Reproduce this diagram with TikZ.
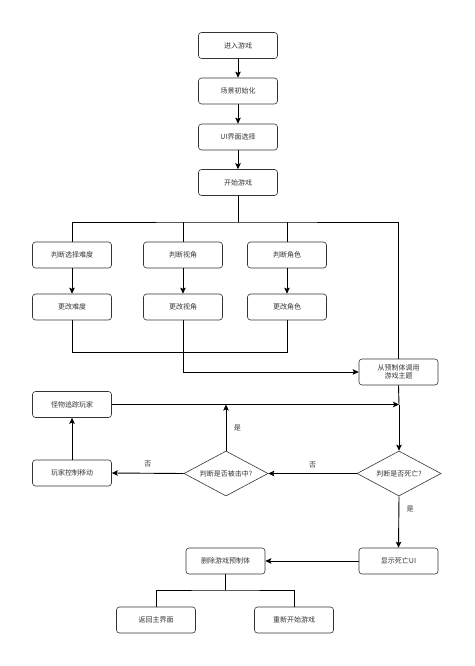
\documentclass[tikz,border=0pt]{standalone}
\usepackage{fontspec}
\newfontfamily\cjk{Noto Sans CJK SC}
\usetikzlibrary{arrows.meta,shapes.geometric}
\begin{document}
\begin{tikzpicture}[x=1pt,y=-1pt,
  box/.style={draw=black!80,line width=0.6pt,rounded corners=3pt,minimum width=79pt,minimum height=26pt,inner sep=1pt,font=\cjk\fontsize{7}{8.5}\selectfont,text=black!80,align=center},
  dia/.style={draw=black!80,line width=0.6pt,diamond,aspect=1.87,minimum width=84pt,minimum height=45pt,inner sep=0pt,font=\cjk\fontsize{7}{8.5}\selectfont,text=black!80},
  conn/.style={line width=0.9pt,black},
  arr/.style={conn,-{Stealth[length=6pt,width=5.5pt,inset=1.2pt]}},
  lab/.style={font=\cjk\fontsize{7}{8.5}\selectfont,text=black!80}]
\useasboundingbox (0,0) rectangle (474,666);
\node[box] (n1) at (238,45.5) {进入游戏};
\node[box] (n2) at (238,91) {场景初始化};
\node[box] (n3) at (238,137) {UI界面选择};
\node[box] (n4) at (238,182.5) {开始游戏};
\node[box] (a1) at (72,255) {判断选择难度};
\node[box] (a2) at (183,255) {判断视角};
\node[box] (a3) at (287,255) {判断角色};
\node[box] (b1) at (72,307) {更改难度};
\node[box] (b2) at (183,307) {更改视角};
\node[box] (b3) at (287,307) {更改角色};
\node[box] (pf) at (398.5,372) {从预制体调用\\游戏主题};
\node[box] (mon) at (72,404.5) {怪物追踪玩家};
\node[box] (mv) at (72,473) {玩家控制移动};
\node[dia] (hit) at (226,473.5) {判断是否被击中?};
\node[dia] (die) at (399,473.5) {判断是否死亡?};
\node[box] (ui) at (398.5,561) {显示死亡UI};
\node[box] (del) at (225.5,561) {删除游戏预制体};
\node[box] (ret) at (156,620) {返回主界面};
\node[box] (rst) at (294,620) {重新开始游戏};
\coordinate (br) at (238,222);
\coordinate (jn) at (399,404.5);
\coordinate (hb) at (225.5,590);
\draw[arr] (n1) -- (n2);
\draw[arr] (n2) -- (n3);
\draw[arr] (n3) -- (n4);
\draw[conn] (n4) -- (br);
\draw[conn] (a1.north) |- (br) -| (pf.north);
\draw[conn] (a2.north) -- (a2.north |- br);
\draw[conn] (a3.north) -- (a3.north |- br);
\draw[arr] (a1) -- (b1);
\draw[arr] (a2) -- (b2);
\draw[arr] (a3) -- (b3);
\draw[conn] (b1.south) -- ++(0,32) -| (b3.south);
\draw[arr] (b2.south) |- (pf.west);
\draw[conn] (pf.south) -- (jn);
\draw[arr] (mon.east) -- (jn);
\draw[arr] (jn) -- (die.north);
\draw[arr] (hit.north) -- (hit.north |- mon.east) node[lab,pos=0.5,right=4pt] {是};
\draw[arr] (die.west) -- (hit.east) node[lab,pos=0.5,above=2pt] {否};
\draw[arr] (hit.west) -- (mv.east) node[lab,pos=0.5,above=2pt] {否};
\draw[arr] (mv.north) -- (mon.south);
\draw[arr] (die.south) -- (ui.north) node[lab,pos=0.25,right=4pt] {是};
\draw[arr] (ui.west) -- (del.east);
\draw[conn] (del.south) -- (hb);
\draw[conn] (ret.north) |- (hb) -| (rst.north);
\end{tikzpicture}
\end{document}
